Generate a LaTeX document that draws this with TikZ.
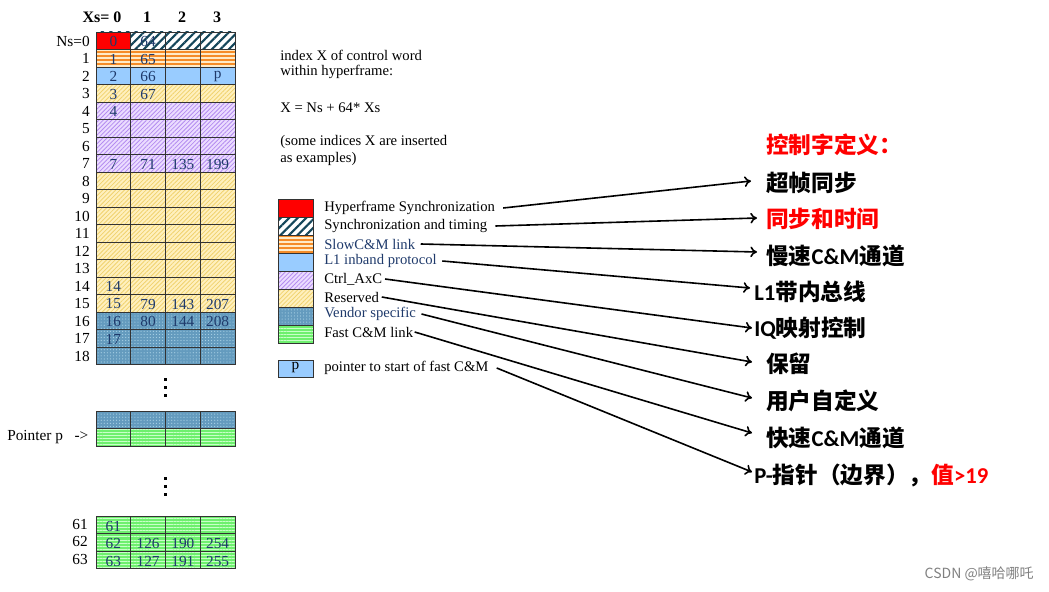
\documentclass[tikz,border=0pt]{standalone}
\usepackage{fontspec}
\setmainfont{Liberation Serif}
\newfontfamily\cjk{Noto Sans CJK SC}
\newfontfamily\carl{Carlito}
\usetikzlibrary{patterns.meta,arrows.meta}
\definecolor{numc}{HTML}{1F3A6B}
\tikzset{
 hyp/.style={fill=red},
 syn/.style={fill=white,postaction={pattern={Lines[angle=45,distance=4.5pt,line width=1.6pt]},pattern color={rgb,255:red,20;green,70;blue,90}}},
 slw/.style={fill={rgb,255:red,255;green,235;blue,200},postaction={pattern={Lines[angle=0,distance=3pt,line width=1.1pt]},pattern color={rgb,255:red,245;green,140;blue,40}}},
 lone/.style={fill={rgb,255:red,153;green,204;blue,255}},
 ctl/.style={fill={rgb,255:red,235;green,220;blue,255},postaction={pattern={Lines[angle=45,distance=2.3pt,line width=0.6pt]},pattern color={rgb,255:red,180;green,140;blue,240}}},
 rsv/.style={fill={rgb,255:red,255;green,240;blue,190},postaction={pattern={Lines[angle=45,distance=2.3pt,line width=0.6pt]},pattern color={rgb,255:red,240;green,210;blue,110}}},
 vnd/.style={fill={rgb,255:red,100;green,155;blue,190},postaction={pattern={Dots[distance=2.3pt,radius=0.45pt]},pattern color={rgb,255:red,170;green,210;blue,230}}},
 fst/.style={fill={rgb,255:red,110;green,240;blue,110},postaction={pattern={Lines[angle=0,distance=2.3pt,line width=0.5pt]},pattern color={rgb,255:red,200;green,255;blue,200}}},
 num/.style={font=\fontsize{11.5}{13}\selectfont,text=numc,inner sep=0},
 rl/.style={font=\fontsize{11.5}{13}\selectfont,anchor=east,inner sep=0},
 leg/.style={font=\fontsize{11}{13}\selectfont,anchor=west,inner sep=0},
 zh/.style={font=\cjk\bfseries\fontsize{17}{20}\selectfont,anchor=west,inner sep=0},
 arr/.style={line width=1.2pt,-{To[length=5pt,width=8pt]}},
 grid/.style={draw=black!80,line width=0.6pt}
}
\newcommand\myrow[2]{% y-top, style
 \path[#2] (96,#1) rectangle (235,#1+17.5);
 \draw[grid] (96,#1) rectangle (235,#1+17.5);
 \foreach \x in {130.75,165.5,200.25} \draw[grid] (\x,#1) -- (\x,#1+17.5);}
\begin{document}
\begin{tikzpicture}[x=0.75pt,y=-0.75pt]
\useasboundingbox (0,0) rectangle (1049,592);
% header
\node[font=\fontsize{12}{14}\selectfont\bfseries] (xs) at (102,17) {Xs= 0};
\foreach \c/\x in {1/147,2/182,3/217} \node[font=\fontsize{12}{14}\selectfont\bfseries] (h\c) at (\x,17) {\c};
% rows
\myrow{32}{syn}
\path[hyp] (96,32) rectangle (130.75,49.5);
\draw[grid] (96,32) rectangle (130.75,49.5);
\myrow{49.5}{slw}
\myrow{67}{lone}
\myrow{84.5}{rsv}
\foreach \r in {4,...,7} {\myrow{32+17.5*\r}{ctl}}
\foreach \r in {8,...,15} {\myrow{32+17.5*\r}{rsv}}
\foreach \r in {16,17,18} {\myrow{32+17.5*\r}{vnd}}
\foreach \r in {0,...,18} {
 \node[rl] (r\r) at (90,41+17.5*\r) {\ifnum\r=0 Ns=0\else\r\fi};
}
% pointer block
\myrow{411}{vnd}\myrow{428.5}{fst}
\node[font=\fontsize{11.5}{13}\selectfont,anchor=west,inner sep=0] (pp) at (7,437) {Pointer p \ \ ->};
% bottom block
\foreach \r in {0,1,2} {\myrow{516+17.5*\r}{fst}}
\node[rl] (r61) at (88,524) {61};
\node[rl] (r62) at (88,541.5) {62};
\node[rl] (r63) at (88,559) {63};
% dots
\foreach \y in {379,387,395,478,486,494} \fill (163.5,\y-1.5) rectangle (166.5,\y+1.5);
% numbers
\foreach \t/\c/\r in {0/0/0,64/1/0,1/0/1,65/1/1,2/0/2,66/1/2,p/3/2,3/0/3,67/1/3,4/0/4,7/0/7,71/1/7,135/2/7,199/3/7,14/0/14,15/0/15,79/1/15,143/2/15,207/3/15,16/0/16,80/1/16,144/2/16,208/3/16,17/0/17}
 \node[num] (n\t) at (113.4+34.75*\c,41.5+17.5*\r) {\t};
\foreach \t/\c/\r in {61/0/0,62/0/1,126/1/1,190/2/1,254/3/1,63/0/2,127/1/2,191/2/2,255/3/2}
 \node[num] (n\t) at (113.4+34.75*\c,526+17.5*\r) {\t};
% description text
\begin{scope}[every node/.style={font=\fontsize{11}{13}\selectfont,anchor=west,inner sep=0}]
\node (d1) at (280,55) {index X of control word};
\node (d2) at (280,72) {within hyperframe:};
\node (d3) at (280,108) {X = Ns + 64* Xs};
\node (d4) at (280,142) {(some indices X are inserted};
\node (d5) at (280,159) {as examples)};
\end{scope}
% legend
\foreach \s/\i in {hyp/0,syn/1,slw/2,lone/3,ctl/4,rsv/5,vnd/6,fst/7}
 {\path[\s] (278,199+18*\i) rectangle (313,217+18*\i);
  \draw[grid] (278,199+18*\i) rectangle (313,217+18*\i);}
\path[lone,grid] (278,360) rectangle (313,377);
\node[num,text=black] (lp) at (295.5,368) {p};
\node[leg] (l0) at (324,208) {Hyperframe Synchronization};
\node[leg] (l1) at (324,226) {Synchronization and timing};
\node[leg,text=numc] (l2) at (324,244) {SlowC\&M link};
\node[leg,text=numc] (l3) at (324,261) {L1 inband protocol};
\node[leg] (l4) at (324,279) {Ctrl\_AxC};
\node[leg] (l5) at (324,297) {Reserved};
\node[leg,text=numc] (l6) at (324,314) {Vendor specific};
\node[leg] (l7) at (324,332) {Fast C\&M link};
\node[leg] (l8) at (324,368) {pointer to start of fast C\&M};
% chinese labels
\node[zh,text=red] (t0) at (766,145) {控制字定义：};
\node[zh] (t1) at (766,183) {超帧同步};
\node[zh,text=red] (t2) at (766,219) {同步和时间};
\node[zh] (t3) at (766,256) {慢速{\carl\bfseries C\&M}通道};
\node[zh] (t4) at (754,292) {{\carl\bfseries L1}带内总线};
\node[zh] (t5) at (754,328) {{\carl\bfseries IQ}映射控制};
\node[zh] (t6) at (766,364) {保留};
\node[zh] (t7) at (766,401) {用户自定义};
\node[zh] (t8) at (766,438) {快速{\carl\bfseries C\&M}通道};
\node[zh] (t9) at (754,475) {{\carl\bfseries P-}指针（边界），{\color{red}值{\carl\bfseries >19}}};
\coordinate (a1) at (751,181);
\coordinate (a2) at (757,218);
\coordinate (a3) at (757,252);
\coordinate (a4) at (750,288);
\coordinate (a5) at (752,328);
\coordinate (a6) at (752,362);
\coordinate (a7) at (752,398);
\coordinate (a8) at (752,433);
\coordinate (a9) at (752,472);
\draw[arr] ([xshift=6pt]l0.east) -- (a1);
\draw[arr] ([xshift=6pt]l1.east) -- (a2);
\draw[arr] ([xshift=4pt]l2.east) -- (a3);
\draw[arr] ([xshift=4pt]l3.east) -- (a4);
\draw[arr] ([xshift=2pt]l4.east) -- (a5);
\draw[arr] ([xshift=2pt]l5.east) -- (a6);
\draw[arr] ([xshift=4pt]l6.east) -- (a7);
\draw[arr] ([xshift=1pt]l7.east) -- (a8);
\draw[arr] ([xshift=6pt]l8.east) -- (a9);
\node[font=\cjk\fontsize{10.5}{12}\selectfont,text=gray,anchor=east,inner sep=0] (wm) at (1034,574) {CSDN @嘻哈哪吒};
\end{tikzpicture}
\end{document}
